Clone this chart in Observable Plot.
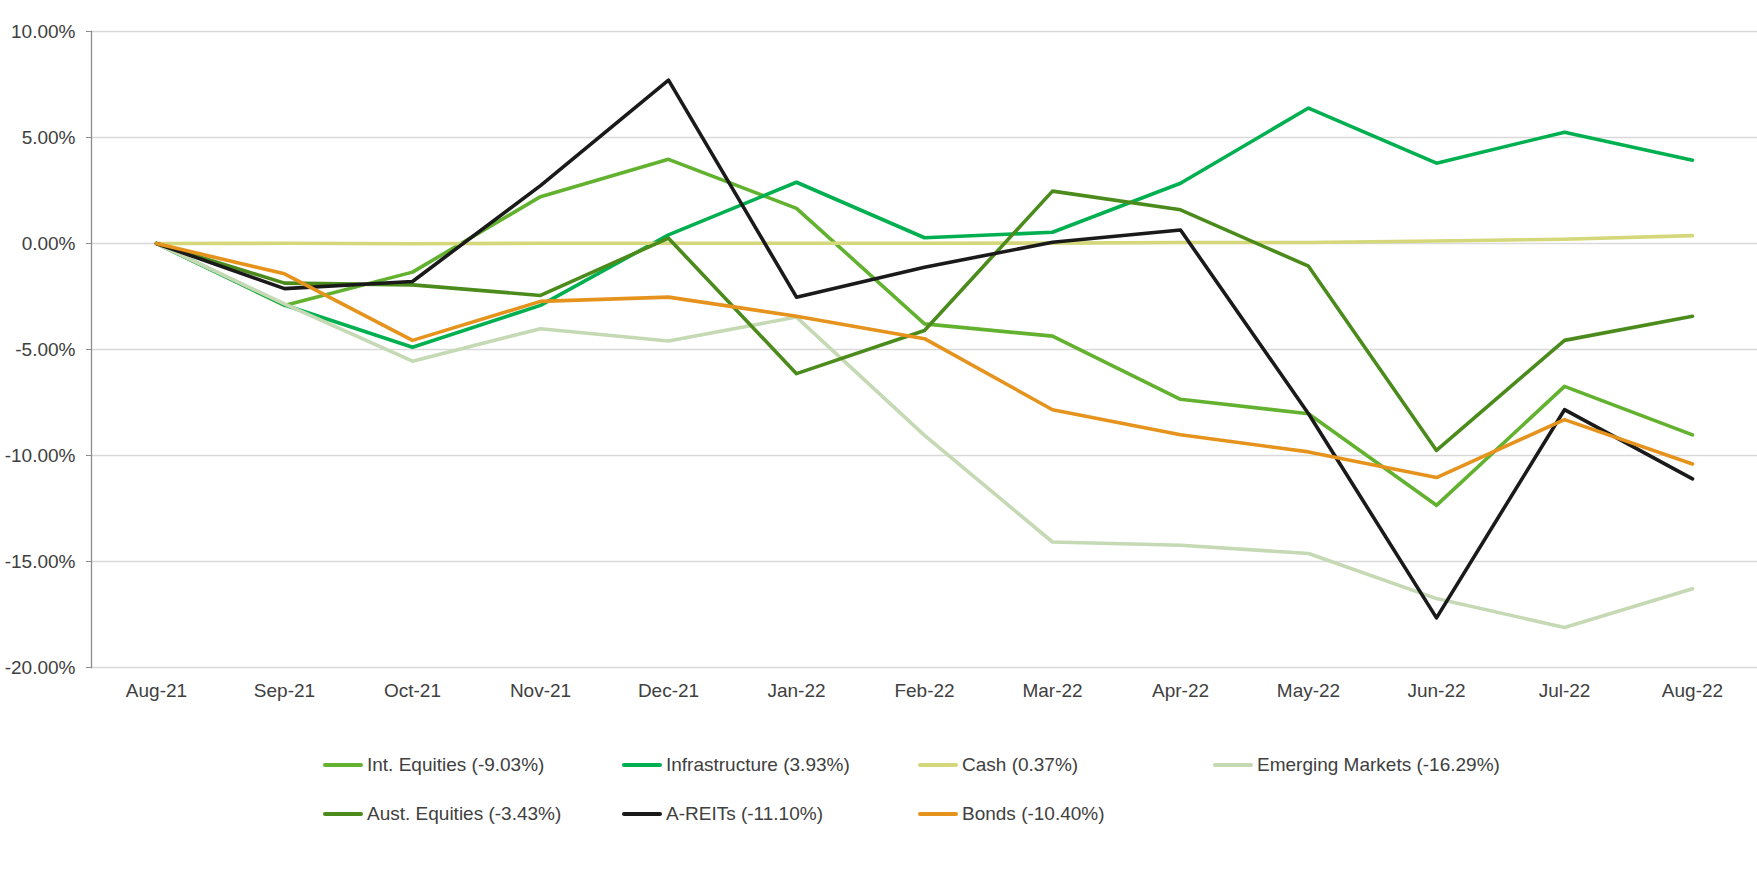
<!DOCTYPE html>
<html>
<head>
<meta charset="utf-8">
<script src="https://cdn.jsdelivr.net/npm/d3@7"></script>
<script src="https://cdn.jsdelivr.net/npm/@observablehq/plot@0.6"></script>
<style>
  html, body { margin: 0; padding: 0; background: #fff; }
  body { width: 1757px; height: 876px; position: relative; overflow: hidden;
         font-family: "Liberation Sans", Arial, sans-serif; }
  #chart { position: absolute; left: 0; top: 0; }
  #legend { position: absolute; left: 323px; top: 755px;
            display: grid; grid-template-columns: 299px 296px 295px 300px;
            grid-auto-rows: 20px; row-gap: 29px; }
  .item { display: flex; align-items: center; font-size: 19px; color: #404040;
          line-height: 20px; white-space: nowrap; }
  .sw { display: inline-block; width: 40px; height: 4px; border-radius: 2px; margin-right: 4px; }
</style>
</head>
<body>
<div id="chart"></div>
<div id="legend"></div>
<script>
const months = ["Aug-21","Sep-21","Oct-21","Nov-21","Dec-21","Jan-22","Feb-22","Mar-22","Apr-22","May-22","Jun-22","Jul-22","Aug-22"];

const seriesNames = ["Int. Equities","Infrastructure","Cash","Emerging Markets","Aust. Equities","A-REITs","Bonds"];
const legendLabels = ["Int. Equities (-9.03%)","Infrastructure (3.93%)","Cash (0.37%)","Emerging Markets (-16.29%)","Aust. Equities (-3.43%)","A-REITs (-11.10%)","Bonds (-10.40%)"];
const seriesColors = ["#62b22f","#00b050","#d4d77a","#c5d9b4","#4b8b1c","#1a1a1a","#e5931c"];

const intEquities     = [0, -2.92, -1.35,  2.21,  3.97,  1.66, -3.79,  -4.37,  -7.35,  -8.03, -12.35,  -6.74,  -9.03];
const infrastructure  = [0, -2.90, -4.89, -2.92,  0.41,  2.89,  0.27,   0.53,   2.84,   6.39,   3.79,   5.25,   3.93];
const cash            = [0,  0.01, -0.01,  0.01,  0.01,  0.01,  0.01,   0.02,   0.05,   0.05,   0.12,   0.20,   0.37];
const emerging        = [0, -2.85, -5.55, -4.02, -4.60, -3.47, -9.05, -14.08, -14.23, -14.62, -16.75, -18.11, -16.29];
const austEquities    = [0, -1.87, -1.95, -2.45,  0.25, -6.14, -4.10,   2.47,   1.59,  -1.07,  -9.76,  -4.57,  -3.43];
const aReits          = [0, -2.13, -1.79,  2.73,  7.71, -2.53, -1.12,   0.06,   0.64,  -8.03, -17.66,  -7.84, -11.10];
const bonds           = [0, -1.43, -4.57, -2.73, -2.53, -3.43, -4.49,  -7.84,  -9.02,  -9.83, -11.04,  -8.31, -10.40];

const yTicks = [-20, -15, -10, -5, 0, 5, 10];

const seriesValues = [intEquities, infrastructure, cash, emerging, austEquities, aReits, bonds];
const data = seriesNames.flatMap((name, s) =>
  months.map((m, i) => ({ month: m, value: seriesValues[s][i], name })));

const chart = Plot.plot({
  width: 1757,
  height: 720,
  marginLeft: 91,
  marginRight: 0,
  marginTop: 31,
  marginBottom: 53,
  style: { fontFamily: "'Liberation Sans', Arial, sans-serif", fontSize: "19px", color: "#404040", background: "white", overflow: "visible" },
  x: { type: "point", domain: months, padding: 0.5, label: null },
  y: { domain: [-20, 10], label: null },
  color: { domain: seriesNames, range: seriesColors },
  marks: [
    Plot.gridY(yTicks, { stroke: "#d9d9d9", strokeOpacity: 1, strokeWidth: 1.3 }),
    Plot.frame({ anchor: "left", stroke: "#8c8c8c", strokeWidth: 1.3 }),
    Plot.axisY(yTicks, { tickSize: 5, tickPadding: 11, tickFormat: d => d.toFixed(2) + "%", stroke: "#8c8c8c", fill: "#404040", fontSize: 19, label: null }),
    Plot.axisX({ tickSize: 0, tickPadding: 16, fill: "#404040", fontSize: 19, label: null }),
    Plot.line(data, { x: "month", y: "value", z: "name", stroke: "name", strokeWidth: 3.6, strokeLinejoin: "round" })
  ]
});
document.getElementById("chart").appendChild(chart);

const legend = document.getElementById("legend");
legendLabels.forEach((lab, i) => {
  const it = document.createElement("div");
  it.className = "item";
  const sw = document.createElement("span");
  sw.className = "sw";
  sw.style.background = seriesColors[i];
  it.appendChild(sw);
  it.appendChild(document.createTextNode(lab));
  legend.appendChild(it);
});
</script>
</body>
</html>
